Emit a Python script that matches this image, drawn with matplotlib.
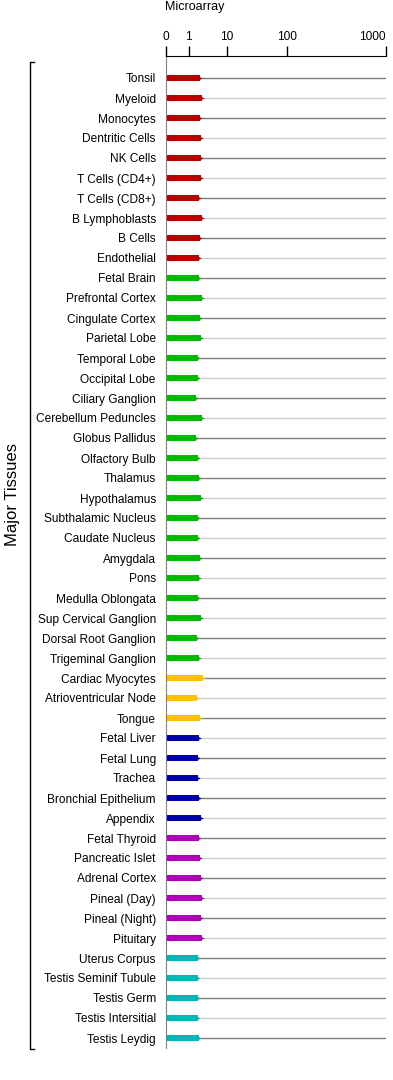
import numpy as np
import matplotlib
matplotlib.use('Agg')
import matplotlib.pyplot as plt

plt.rcParams['font.family'] = ['Liberation Sans', 'DejaVu Sans']

tissues = ["Tonsil", "Myeloid", "Monocytes", "Dentritic Cells", "NK Cells",
           "T Cells (CD4+)", "T Cells (CD8+)", "B Lymphoblasts", "B Cells", "Endothelial",
           "Fetal Brain", "Prefrontal Cortex", "Cingulate Cortex", "Parietal Lobe",
           "Temporal Lobe", "Occipital Lobe", "Ciliary Ganglion", "Cerebellum Peduncles",
           "Globus Pallidus", "Olfactory Bulb", "Thalamus", "Hypothalamus",
           "Subthalamic Nucleus", "Caudate Nucleus", "Amygdala", "Pons",
           "Medulla Oblongata", "Sup Cervical Ganglion", "Dorsal Root Ganglion",
           "Trigeminal Ganglion", "Cardiac Myocytes", "Atrioventricular Node", "Tongue",
           "Fetal Liver", "Fetal Lung", "Trachea", "Bronchial Epithelium", "Appendix",
           "Fetal Thyroid", "Pancreatic Islet", "Adrenal Cortex", "Pineal (Day)",
           "Pineal (Night)", "Pituitary", "Uterus Corpus", "Testis Seminif Tubule",
           "Testis Germ", "Testis Intersitial", "Testis Leydig"]

values = [1.92, 2.25, 2.0, 2.04, 2.12, 2.04, 1.88, 2.25, 2.0, 1.84,
          1.88, 2.25, 2.0, 2.04, 1.76, 1.76, 1.56, 2.17, 1.56, 1.70,
          1.88, 2.04, 1.73, 1.76, 1.96, 1.88, 1.73, 2.12, 1.63, 1.81,
          2.35, 1.66, 2.0,
          1.81, 1.70, 1.70, 1.88, 2.04,
          1.88, 2.0, 2.04, 2.25, 2.12, 2.25,
          1.76, 1.76, 1.73, 1.73, 1.84]

groups = ["immune"] * 10 + ["nervous"] * 20 + ["muscle"] * 3 + ["digestive"] * 5 \
    + ["endocrine"] * 6 + ["reproductive"] * 5

group_colors = {"immune": "#bb0000", "nervous": "#00bb00", "muscle": "#ffc000",
                "digestive": "#0000aa", "endocrine": "#b000b8", "reproductive": "#00b8b8"}

tick_values = [0, 1, 10, 100, 1000]
tick_px = [0, 23.3, 61, 121.6, 220.3]  # pixel positions of the ticks on the original axis


def forward(x):
    x = np.asarray(x, dtype=float)
    lx = np.log10(np.maximum(x, 1))
    return np.where(x < 1, x * tick_px[1], np.interp(lx, [0, 1, 2, 3], tick_px[1:]))


def inverse(p):
    p = np.asarray(p, dtype=float)
    return np.where(p < tick_px[1], p / tick_px[1],
                    10 ** np.interp(p, tick_px[1:], [0, 1, 2, 3]))


fig = plt.figure(figsize=(3.93, 10.8), dpi=100)
ax = fig.add_axes([165.5 / 393, 1 - 1048 / 1080, (386 - 165.5) / 393, (1048 - 56) / 1080])
ax.set_xscale('function', functions=(forward, inverse))

y = np.arange(len(tissues))
colors = [group_colors[g] for g in groups]

# alternating row lines
for i in y:
    ax.hlines(i, 0, 1000, color='#808080' if i % 2 == 0 else '#cccccc', lw=1, zorder=1)

ax.barh(y, values, height=0.27, color=colors, zorder=2)
for yi, v, c in zip(y, values, colors):
    ax.plot(v, yi, marker='>', markersize=3.2, color=c, markeredgewidth=0, zorder=3)

ax.set_xlim(0, 1000)
ax.set_ylim(len(tissues) - 0.5, -1.1)
ax.set_yticks(y)
ax.set_yticklabels(tissues, fontsize=8.6)
ax.tick_params(axis='y', length=0, pad=7)

ax.xaxis.tick_top()
ax.set_xticks(tick_values)
ax.set_xticklabels([str(t) for t in tick_values], fontsize=8.6)
ax.get_xticklabels()[-1].set_ha('right')
ax.xaxis.set_minor_locator(matplotlib.ticker.NullLocator())
ax.tick_params(axis='x', direction='out', length=7.5, width=1, pad=2)

ax.spines['right'].set_visible(False)
ax.spines['bottom'].set_visible(False)
ax.spines['left'].set_color('#808080')
ax.spines['top'].set_color('black')

fig.text(165 / 393, 1 - 7 / 1080, "Microarray", fontsize=9, ha='left', va='center')

# bracket for the tissue group
fig.add_artist(plt.Line2D([34 / 393, 30 / 393, 30 / 393, 34 / 393],
                          [1 - 62 / 1080, 1 - 62 / 1080, 1 - 1049 / 1080, 1 - 1049 / 1080],
                          color='black', lw=1))
fig.text(13 / 393, 1 - 495 / 1080, "Major Tissues", fontsize=12, rotation=90,
         ha='center', va='center')

fig.savefig('out.png', dpi=100)
